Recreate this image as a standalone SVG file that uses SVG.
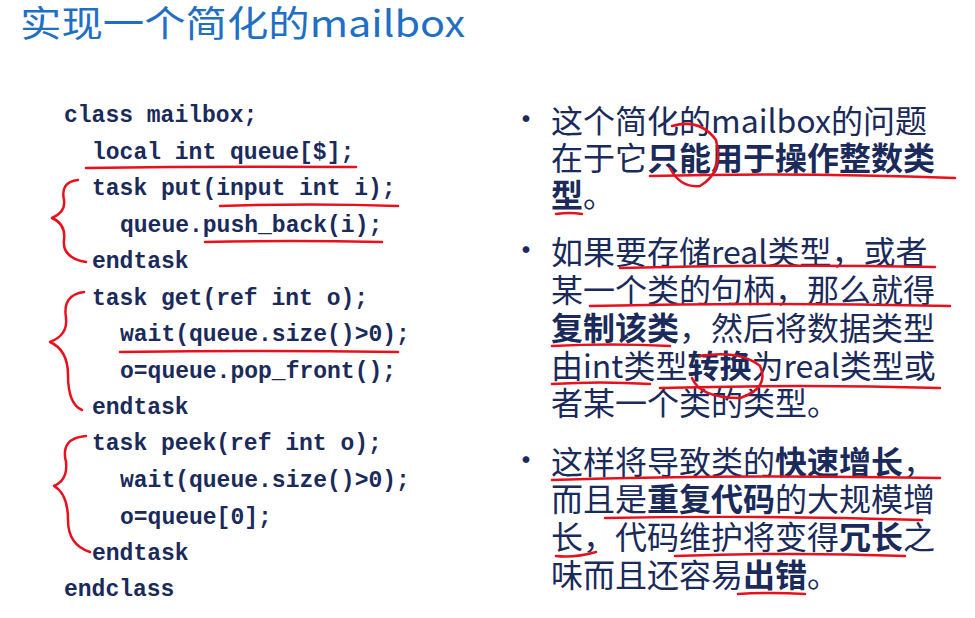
<svg xmlns="http://www.w3.org/2000/svg" width="975" height="618" viewBox="0 0 975 618">
<style>
.t{font-family:"Noto Sans CJK SC","Noto Sans",sans-serif;font-size:36px;fill:#1F6FC5}
.c{font-family:"Liberation Mono",monospace;font-weight:bold;font-size:23px;fill:#1A2A5A;white-space:pre}
.r{font-family:"Noto Sans CJK SC",sans-serif;font-size:32px;fill:#1A2A5A}
.b{font-weight:bold}
.m{fill:none;stroke:#E8101C;stroke-width:2.5;stroke-linecap:round;stroke-linejoin:round}
</style>
<rect width="975" height="618" fill="#fff"/>
<text class="t" x="20" y="37" textLength="445" lengthAdjust="spacingAndGlyphs">实现一个简化的mailbox</text>
<g id="code">
<text class="c" x="64" y="122">class mailbox;</text>
<text class="c" x="92" y="159">local int queue[$];</text>
<text class="c" x="92" y="195">task put(input int i);</text>
<text class="c" x="120" y="232">queue.push_back(i);</text>
<text class="c" x="92" y="268">endtask</text>
<text class="c" x="92" y="305">task get(ref int o);</text>
<text class="c" x="120" y="341">wait(queue.size()&gt;0);</text>
<text class="c" x="120" y="378">o=queue.pop_front();</text>
<text class="c" x="92" y="414">endtask</text>
<text class="c" x="92" y="450">task peek(ref int o);</text>
<text class="c" x="120" y="487">wait(queue.size()&gt;0);</text>
<text class="c" x="120" y="524">o=queue[0];</text>
<text class="c" x="92" y="560">endtask</text>
<text class="c" x="64" y="596">endclass</text>
</g>
<g id="bullets">
<text class="r" x="510" y="131">•</text>
<text class="r" x="551" y="133">这个简化的mailbox的问题</text>
<text class="r" x="551" y="170">在于它<tspan class="b">只能用于操作整数类</tspan></text>
<text class="r b" x="551" y="207">型<tspan font-weight="normal">。</tspan></text>
<text class="r" x="510" y="262">•</text>
<text class="r" x="551" y="264">如果要存储real类型，或者</text>
<text class="r" x="551" y="302">某一个类的句柄，那么就得</text>
<text class="r" x="551" y="340"><tspan class="b">复制该类</tspan>，然后将数据类型</text>
<text class="r" x="551" y="378">由int类型<tspan class="b">转换</tspan>为real类型或</text>
<text class="r" x="551" y="415">者某一个类的类型。</text>
<text class="r" x="510" y="472">•</text>
<text class="r" x="551" y="474">这样将导致类的<tspan class="b">快速增长</tspan>，</text>
<text class="r" x="551" y="511">而且是<tspan class="b">重复代码</tspan>的大规模增</text>
<text class="r" x="551" y="549">长，代码维护将变得<tspan class="b">冗长</tspan>之</text>
<text class="r" x="551" y="587">味而且还容易<tspan class="b">出错</tspan>。</text>
</g>
<g id="marks">
<path class="m" d="M86 168 Q220 166 356 167"/>
<path class="m" d="M78 180 Q60 182 64 200 Q66 212 52 218 Q66 224 64 240 Q62 258 86 262"/>
<path class="m" d="M220 206 Q310 203 398 206"/>
<path class="m" d="M205 242 Q290 240 382 242"/>
<path class="m" d="M84 292 Q62 295 66 318 Q68 335 50 342 Q68 350 68 375 Q68 404 82 410"/>
<path class="m" d="M120 352 Q260 350 398 352"/>
<path class="m" d="M86 436 Q60 438 66 462 Q68 480 54 486 Q68 494 68 520 Q68 545 90 552"/>
<path class="m" d="M650 176 Q800 172 955 178"/>
<path class="m" d="M556 214 Q570 212 582 214"/>
<path class="m" d="M672 126 Q700 118 716 140 Q724 172 700 186 Q680 188 670 168"/>
<path class="m" d="M620 268 Q780 264 935 267"/>
<path class="m" d="M590 306 Q770 302 950 306"/>
<path class="m" d="M552 346 Q610 343 670 346"/>
<path class="m" d="M552 384 Q600 381 650 384"/>
<path class="m" d="M660 388 Q800 384 940 388"/>
<path class="m" d="M700 356 Q740 350 760 366 Q770 388 740 398 Q700 398 692 378"/>
<path class="m" d="M552 480 Q740 474 940 478"/>
<path class="m" d="M605 518 Q760 515 922 520"/>
<path class="m" d="M556 556 Q575 558 596 552"/>
<path class="m" d="M675 556 Q790 552 905 556"/>
<path class="m" d="M738 594 Q770 592 805 594"/>
</g>
</svg>
